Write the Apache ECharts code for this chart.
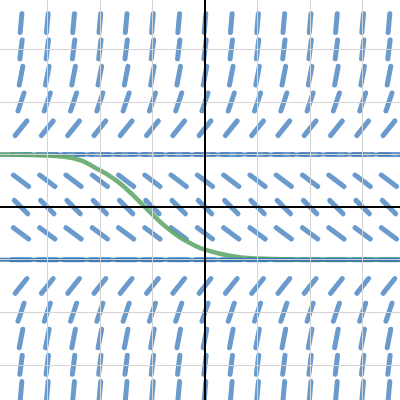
<!DOCTYPE html>
<html>
<head>
<meta charset="utf-8">
<script src="https://cdn.jsdelivr.net/npm/echarts@6/dist/echarts.min.js"></script>
<style>html,body{margin:0;padding:0;background:#fff}#showChart{width:400px;height:400px}</style>
</head>
<body>
<div id="showChart"></div>
<script>
// field columns (x) and rows (y, slope dy/dx = y^2 - 1)
var fieldX = [-3.5, -3, -2.5, -2, -1.5, -1, -0.5, 0, 0.5, 1, 1.5, 2, 2.5, 3, 3.5];
var rowY = [3.5, 3, 2.5, 2, 1.5, 1, 0.5, 0, -0.5, -1, -1.5, -2, -2.5, -3, -3.5];
var rowSlope = [11.25, 8, 5.25, 3, 1.25, 0, -0.75, -1, -0.75, 0, 1.25, 3, 5.25, 8, 11.25];
var gridTicks = [-3, -2, -1, 1, 2, 3];

// solution curve
var curveX = [-4, -3.5, -3, -2.5, -2, -1.75, -1.5, -1.25, -1.14, -1, -0.75, -0.5, -0.25, 0, 0.5, 1, 1.5, 2, 3, 4];
var curveY = [1, 0.995, 0.98, 0.93, 0.7, 0.55, 0.35, 0.11, 0, -0.14, -0.37, -0.56, -0.7, -0.81, -0.93, -0.98, -0.99, -1, -1, -1];

var fieldData = [];
rowY.forEach(function (y, i) {
    fieldX.forEach(function (x) { fieldData.push([x, y, rowSlope[i]]); });
});
var curveData = curveX.map(function (x, i) { return [x, curveY[i]]; });

var gridLines = [];
gridTicks.forEach(function (t) { gridLines.push({xAxis: t}); gridLines.push({yAxis: t}); });

var option1 = {
    animation: false,
    grid: {left: 0, right: 0, top: 0, bottom: 0},
    xAxis: {
        type: 'value', min: -3.9, max: 3.71,
        axisLine: {show: false}, axisTick: {show: false}, axisLabel: {show: false},
        splitLine: {show: false}
    },
    yAxis: {
        type: 'value', min: -3.67, max: 3.94,
        axisLine: {show: false}, axisTick: {show: false}, axisLabel: {show: false},
        splitLine: {show: false}
    },
    series: [
        {
            type: 'line', data: [], silent: true,
            markLine: {
                symbol: 'none', silent: true, label: {show: false},
                lineStyle: {color: '#d4d4d4', width: 1, type: 'solid'},
                data: gridLines
            }
        },
        {
            type: 'line', data: [], silent: true,
            markLine: {
                symbol: 'none', silent: true, label: {show: false},
                lineStyle: {color: '#000', width: 2, type: 'solid'},
                data: [{xAxis: 0}, {yAxis: 0}]
            }
        },
        {
            type: 'custom',
            data: fieldData,
            renderItem: function (params, api) {
                var x = api.value(0), y = api.value(1), m = api.value(2);
                var p0 = api.coord([x, y]);
                var p1 = api.coord([x + 0.1, y + m * 0.1]);
                var dx = p1[0] - p0[0], dy = p1[1] - p0[1];
                var len = Math.sqrt(dx * dx + dy * dy);
                var h = 9.5;
                dx = dx / len * h; dy = dy / len * h;
                return {
                    type: 'line',
                    shape: {x1: p0[0] - dx, y1: p0[1] - dy, x2: p0[0] + dx, y2: p0[1] + dy},
                    style: {stroke: 'rgba(70,130,192,0.8)', lineWidth: 5, lineCap: 'round'}
                };
            }
        },
        {
            type: 'line', data: [[-4, 1], [4, 1]], symbol: 'none',
            lineStyle: {color: 'rgba(70,125,185,0.85)', width: 4, type: [17, 10], cap: 'round'}
        },
        {
            type: 'line', data: curveData, symbol: 'none', smooth: true,
            lineStyle: {color: 'rgba(100,168,110,0.9)', width: 4.5}
        },
        {
            type: 'line', data: [[-4, -1], [4, -1]], symbol: 'none',
            lineStyle: {color: 'rgba(50,115,180,0.9)', width: 4}
        }
    ]
};

var chartOutChar = echarts.init(document.getElementById('showChart'));
chartOutChar.setOption(option1);
</script>
</body>
</html>
